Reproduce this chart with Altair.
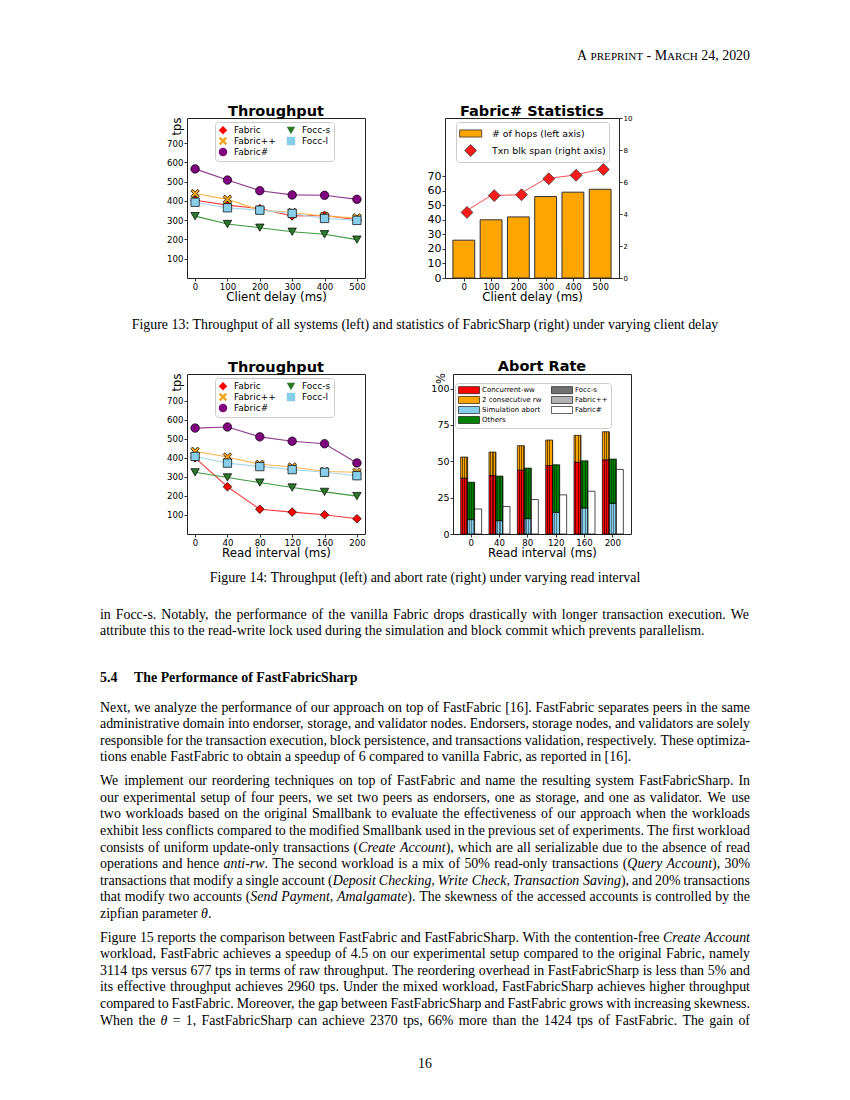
import altair as alt
import pandas as pd

# ------------------------------------------------------------------
# Values
# ------------------------------------------------------------------
delay_ms = [0, 100, 200, 300, 400, 500]
delay_fabric = [403, 378, 360, 322, 325, 302]
delay_fabric_pp = [438, 408, 352, 340, 320, 312]
delay_fabric_sharp = [566, 508, 453, 431, 429, 408]
delay_focc_s = [321, 280, 261, 240, 227, 199]
delay_focc_l = [393, 364, 352, 335, 309, 299]

hops = [26, 40, 42, 56, 59, 61]
txn_blk_span = [4.1, 5.15, 5.2, 6.2, 6.42, 6.78]

read_ms = [0, 40, 80, 120, 160, 200]
read_fabric = [400, 248, 130, 115, 101, 80]
read_fabric_pp = [434, 404, 366, 352, 328, 324]
read_fabric_sharp = [556, 562, 510, 487, 474, 373]
read_focc_s = [324, 297, 270, 244, 221, 199]
read_focc_l = [407, 372, 354, 338, 324, 306]

abort_focc_ww = [38.4, 40.2, 43.9, 47.1, 49.4, 51.0]
abort_focc_total = [52.9, 56.3, 60.7, 64.6, 67.8, 70.3]
abort_fpp_sim = [9.9, 9.2, 10.6, 14.9, 17.9, 21.1]
abort_fpp_total = [35.6, 39.8, 45.3, 47.6, 50.3, 51.5]
abort_sharp = [17.2, 18.9, 23.7, 26.9, 29.4, 44.4]

tps_ticks = [100, 200, 300, 400, 500, 600, 700]
hops_ticks = [0, 10, 20, 30, 40, 50, 60, 70]
span_ticks = [0, 2, 4, 6, 8, 10]
pct_ticks = [0, 25, 50, 75, 100]

systems = ["Fabric", "Fabric++", "Fabric#", "Focc-s", "Focc-l"]
draw_order = ["Focc-l", "Focc-s", "Fabric#", "Fabric++", "Fabric"]

# ------------------------------------------------------------------
# Page text
# ------------------------------------------------------------------
header_tokens = [("A", False, False), ("PREPRINT", True, True), ("-", False, True),
                 ("M", False, True), ("ARCH", True, False), ("24,", False, True), ("2020", False, True)]
caption13 = "Figure 13: Throughput of all systems (left) and statistics of FabricSharp (right) under varying client delay"
caption14 = "Figure 14: Throughput (left) and abort rate (right) under varying read interval"
heading_num = "5.4"
heading_text = "The Performance of FastFabricSharp"
page_number = "16"

par1 = [
    "in Focc-s. Notably, the performance of the vanilla Fabric drops drastically with longer transaction execution. We",
    "attribute this to the read-write lock used during the simulation and block commit which prevents parallelism.",
]
par2 = [
    "Next, we analyze the performance of our approach on top of FastFabric [16]. FastFabric separates peers in the same",
    "administrative domain into endorser, storage, and validator nodes. Endorsers, storage nodes, and validators are solely",
    "responsible for the transaction execution, block persistence, and transactions validation, respectively. These optimiza-",
    "tions enable FastFabric to obtain a speedup of 6 compared to vanilla Fabric, as reported in [16].",
]
par3 = [
    "We implement our reordering techniques on top of FastFabric and name the resulting system FastFabricSharp. In",
    "our experimental setup of four peers, we set two peers as endorsers, one as storage, and one as validator. We use",
    "two workloads based on the original Smallbank to evaluate the effectiveness of our approach when the workloads",
    "exhibit less conflicts compared to the modified Smallbank used in the previous set of experiments. The first workload",
    "consists of uniform update-only transactions (*Create Account*), which are all serializable due to the absence of read",
    "operations and hence *anti-rw*. The second workload is a mix of 50% read-only transactions (*Query Account*), 30%",
    "transactions that modify a single account (*Deposit Checking, Write Check, Transaction Saving*), and 20% transactions",
    "that modify two accounts (*Send Payment, Amalgamate*). The skewness of the accessed accounts is controlled by the",
    "zipfian parameter *\u03b8*.",
]
par4 = [
    "Figure 15 reports the comparison between FastFabric and FastFabricSharp. With the contention-free *Create Account*",
    "workload, FastFabric achieves a speedup of 4.5 on our experimental setup compared to the original Fabric, namely",
    "3114 tps versus 677 tps in terms of raw throughput. The reordering overhead in FastFabricSharp is less than 5% and",
    "its effective throughput achieves 2960 tps. Under the mixed workload, FastFabricSharp achieves higher throughput",
    "compared to FastFabric. Moreover, the gap between FastFabricSharp and FastFabric grows with increasing skewness.",
    "When the *\u03b8* = 1, FastFabricSharp can achieve 2370 tps, 66% more than the 1424 tps of FastFabric. The gain of",
]

# ------------------------------------------------------------------
# Styles
# ------------------------------------------------------------------
LINE_COLOR = {"Fabric": "#f23c3c", "Fabric++": "#ffb347", "Fabric#": "#8e3a8e",
              "Focc-s": "#3c9a3c", "Focc-l": "#a8d8ee"}
MARK_COLOR = {"Fabric": "#ff0000", "Fabric++": "#f2a51e", "Fabric#": "#800080",
              "Focc-s": "#2a7a2a", "Focc-l": "#87ceeb"}
X_PATH = "M-1,-0.6L-0.6,-1L0,-0.4L0.6,-1L1,-0.6L0.4,0L1,0.6L0.6,1L0,0.4L-0.6,1L-1,0.6L-0.4,0Z"
MARK_SHAPE = {"Fabric": "diamond", "Fabric++": X_PATH, "Fabric#": "circle",
              "Focc-s": "triangle-down", "Focc-l": "square"}
MARK_SIZE = {"Fabric": 110, "Fabric++": 80, "Fabric#": 85, "Focc-s": 75, "Focc-l": 70}

SANS = "DejaVu Sans"
SERIF = "Liberation Serif"
FS = 13.9
LEAD = 16.6
LEFT = 92.0
TEXT_W = 650.0
COL0 = 179
EDGE = "#222222"

TIMES_R = {" ": 250, "!": 333, "#": 500, "%": 833, "'": 333, "(": 333, ")": 333, "+": 564, ",": 250,
           "-": 333, ".": 250, "/": 278, ":": 278, ";": 278, "=": 564, "?": 444, "[": 333, "]": 333,
           "A": 722, "B": 667, "C": 667, "D": 722, "E": 611, "F": 556, "G": 722, "H": 722, "I": 333,
           "J": 389, "K": 722, "L": 611, "M": 889, "N": 722, "O": 722, "P": 556, "Q": 722, "R": 667,
           "S": 556, "T": 611, "U": 722, "V": 722, "W": 944, "X": 722, "Y": 722, "Z": 611,
           "a": 444, "b": 500, "c": 444, "d": 500, "e": 444, "f": 333, "g": 500, "h": 500, "i": 278,
           "j": 278, "k": 500, "l": 278, "m": 778, "n": 500, "o": 500, "p": 500, "q": 500, "r": 333,
           "s": 389, "t": 278, "u": 500, "v": 500, "w": 722, "x": 500, "y": 500, "z": 444}
TIMES_I = {" ": 250, "(": 333, ")": 333, ",": 250, "-": 333, ".": 250,
           "A": 611, "B": 611, "C": 667, "D": 722, "E": 611, "F": 611, "G": 722, "H": 722, "I": 333,
           "J": 444, "K": 667, "L": 556, "M": 833, "N": 667, "O": 722, "P": 611, "Q": 722, "R": 611,
           "S": 500, "T": 556, "U": 722, "V": 611, "W": 833, "X": 611, "Y": 556, "Z": 556,
           "a": 500, "b": 500, "c": 444, "d": 500, "e": 444, "f": 278, "g": 500, "h": 500, "i": 278,
           "j": 278, "k": 444, "l": 278, "m": 722, "n": 500, "o": 500, "p": 500, "q": 500, "r": 389,
           "s": 389, "t": 278, "u": 500, "v": 444, "w": 667, "x": 444, "y": 444, "z": 389}
TIMES_B = {" ": 250, ".": 250, "F": 611, "P": 611, "S": 556, "T": 667, "a": 500, "b": 556, "c": 444,
           "e": 444, "f": 333, "h": 556, "i": 278, "m": 833, "n": 556, "o": 500, "p": 556, "r": 444,
           "s": 389, "t": 333}


def text_width(s, size, style="r"):
    table = {"r": TIMES_R, "i": TIMES_I, "b": TIMES_B}[style]
    return sum(table.get(ch, TIMES_R.get(ch, 500)) for ch in s) * size / 1000.0


def layout_paragraph(lines, y0, last_justified, top, items):
    italic = False
    for k, line in enumerate(lines):
        y = y0 + k * LEAD - top
        justify = (k < len(lines) - 1) or last_justified
        tokens = [t for t in line.split(" ") if t]
        segs_all = []
        for tok in tokens:
            segs = []
            for j, part in enumerate(tok.split("*")):
                if j > 0:
                    italic = not italic
                if part:
                    segs.append((part, "i" if italic else "r"))
            segs_all.append(segs)
        widths = [sum(text_width(p, FS, st) for p, st in segs) for segs in segs_all]
        if justify and len(tokens) > 1:
            gap = (TEXT_W - sum(widths)) / (len(tokens) - 1)
        else:
            gap = 0.25 * FS
        x = LEFT
        for segs, w in zip(segs_all, widths):
            xx = x
            for p, st in segs:
                items.append({"t": p, "x": xx, "y": y, "s": st, "fs": FS, "a": "left"})
                xx += text_width(p, FS, st)
            x += w + gap


def text_panel(items, height):
    df = pd.DataFrame(items)
    layers = []
    for style, fstyle, fweight in [("r", "normal", "normal"), ("i", "italic", "normal"), ("b", "normal", "bold")]:
        for align in ["left", "center", "right"]:
            sub = df[(df["s"] == style) & (df["a"] == align)]
            if len(sub) == 0:
                continue
            layers.append(
                alt.Chart(sub).mark_text(align=align, baseline="alphabetic", font=SERIF,
                                         fontStyle=fstyle, fontWeight=fweight, color="black")
                .encode(x=alt.X("x:Q", scale=None, axis=None),
                        y=alt.Y("y:Q", scale=None, axis=None),
                        text="t:N",
                        size=alt.Size("fs:Q", scale=None, legend=None))
            )
    return alt.layer(*layers).properties(width=COL0, height=height)


def spacer(w, h):
    return alt.Chart(pd.DataFrame({"t": [""]})).mark_text(fontSize=1).encode(
        text="t:N", x=alt.value(10), y=alt.value(10)).properties(width=w, height=h)


FRAME = alt.ViewBackground(stroke=EDGE, strokeWidth=1)


def bottom_axis(values, title, fmt=True, **extra):
    kw = dict(values=values, title=title, labelFontSize=8.6, titleFontSize=11.8, titleY=22,
              titleBaseline="alphabetic", labelAngle=0)
    if fmt:
        kw["format"] = "d"
    kw.update(extra)
    return alt.Axis(**kw)


def left_title_axis(values, title, fs):
    return alt.Axis(values=values, title=title, labelFontSize=fs, titleFontSize=11.5, titleAngle=270,
                    titleX=-10, titleY=8, titleAlign="center", titleBaseline="middle", format="d")


# ------------------------------------------------------------------
# Throughput charts
# ------------------------------------------------------------------
def throughput_chart(xs, series, xdom, ydom, xtitle):
    recs = []
    for s in systems:
        for xv, yv in zip(xs, series[s]):
            recs.append({"x": xv, "tps": yv, "sys": s})
    df = pd.DataFrame(recs)
    x = alt.X("x:Q", scale=alt.Scale(domain=xdom, nice=False, zero=False), axis=bottom_axis(xs, xtitle))
    y = alt.Y("tps:Q", scale=alt.Scale(domain=ydom, nice=False, zero=False),
              axis=left_title_axis(tps_ticks, "tps", 8.6))
    leg = alt.Legend(title=None, orient="none", legendX=28, legendY=4, columns=2, labelFontSize=9,
                     labelFont=SANS, symbolSize=72, symbolStrokeColor="black", symbolStrokeWidth=0.7,
                     strokeColor="#cccccc", fillColor="white", padding=3, cornerRadius=3,
                     rowPadding=-2, columnPadding=9, labelOffset=6)
    lines = alt.Chart(df).mark_line(strokeWidth=1.1).encode(
        x=x, y=y,
        color=alt.Color("sys:N", scale=alt.Scale(domain=draw_order, range=[LINE_COLOR[s] for s in draw_order]),
                        legend=None))
    pts = alt.Chart(df).mark_point(filled=True, opacity=1, stroke="black", strokeWidth=0.7).encode(
        x=x, y=y,
        fill=alt.Fill("sys:N", scale=alt.Scale(domain=systems, range=[MARK_COLOR[s] for s in systems]),
                      legend=leg),
        shape=alt.Shape("sys:N", scale=alt.Scale(domain=systems, range=[MARK_SHAPE[s] for s in systems]),
                        legend=leg),
        size=alt.Size("sys:N", scale=alt.Scale(domain=draw_order, range=[MARK_SIZE[s] for s in draw_order]),
                      legend=None))
    return alt.layer(lines, pts).properties(width=178, height=160,
                                            title=alt.TitleParams("Throughput", offset=-2), view=FRAME)


chartA = throughput_chart(delay_ms, {"Fabric": delay_fabric, "Fabric++": delay_fabric_pp,
                                     "Fabric#": delay_fabric_sharp, "Focc-s": delay_focc_s,
                                     "Focc-l": delay_focc_l},
                          [-25, 525], [0, 830], "Client delay (ms)")
chartC = throughput_chart(read_ms, {"Fabric": read_fabric, "Fabric++": read_fabric_pp,
                                    "Fabric#": read_fabric_sharp, "Focc-s": read_focc_s,
                                    "Focc-l": read_focc_l},
                          [-10, 210], [0, 840], "Read interval (ms)")

# ------------------------------------------------------------------
# Fabric# statistics (dual axis); its cell starts 8px right of the frame,
# so the x range reaches back to -8 and the frame is drawn by axis domains.
# ------------------------------------------------------------------
LB = ["# of hops (left axis)", "Txn blk span (right axis)"]
fillB = alt.Scale(domain=LB, range=["#ffa500", "#ff1a1a"])
shapeB = alt.Scale(domain=LB, range=["M-1,-0.45H1.8V0.45H-1Z", "M0.4,-0.75L1.15,0L0.4,0.75L-0.35,0Z"])
legB = alt.Legend(title=None, orient="none", legendX=3, legendY=4, labelFontSize=9.4, labelFont=SANS,
                  symbolSize=250, symbolStrokeColor="#333333", symbolStrokeWidth=0.8, rowPadding=3,
                  padding=3, strokeColor="#cccccc", fillColor="white", cornerRadius=3, labelOffset=16)
dfB = pd.DataFrame({"delay": delay_ms, "hops": hops, "span": txn_blk_span})
xscaleB = alt.Scale(domain=[-69, 569], nice=False, zero=False, range=[-8, 166])
DOM = dict(domain=True, domainColor=EDGE, domainWidth=1)
axB_bottom = bottom_axis(delay_ms, "Client delay (ms)", **DOM)
axB_top = alt.Axis(orient="top", labels=False, ticks=False, title=None, **DOM)
bars = alt.Chart(dfB).transform_calculate(
    x0="datum.delay - 40", x1="datum.delay + 40", lab="'" + LB[0] + "'"
).mark_bar(stroke="#333333", strokeWidth=1).encode(
    x=alt.X("x0:Q", scale=xscaleB, axis=axB_bottom),
    x2="x1:Q",
    y=alt.Y("hops:Q", scale=alt.Scale(domain=[0, 110], nice=False),
            axis=alt.Axis(values=hops_ticks, title=None, labelFontSize=11, format="d", offset=8, **DOM)),
    y2=alt.datum(0),
    fill=alt.Fill("lab:N", scale=fillB, legend=legB))
yspan = alt.Y("span:Q", scale=alt.Scale(domain=[0, 10], nice=False),
              axis=alt.Axis(orient="right", values=span_ticks, title=None, labelFontSize=7, format="d", **DOM))
span_line = alt.Chart(dfB).mark_line(color="#ff4d4d", strokeWidth=1).encode(
    x=alt.X("delay:Q", scale=xscaleB, axis=axB_top), y=yspan)
span_pts = alt.Chart(dfB).transform_calculate(lab="'" + LB[1] + "'").mark_point(
    filled=True, opacity=1, stroke="#333333", strokeWidth=0.8, size=250).encode(
    x=alt.X("delay:Q", scale=xscaleB, axis=axB_top), y=yspan,
    fill=alt.Fill("lab:N", scale=fillB, legend=legB),
    shape=alt.Shape("lab:N", scale=shapeB, legend=legB))
chartB = alt.layer(bars, alt.layer(span_line, span_pts)).resolve_scale(y="independent").resolve_axis(
    x="independent").properties(width=166, height=160,
                                title=alt.TitleParams("Fabric# Statistics", offset=-5, dx=-4))

# ------------------------------------------------------------------
# Abort rate (grouped + stacked bars)
# ------------------------------------------------------------------
causes_legend = ["Concurrent-ww", "2 consecutive rw", "Simulation abort", "Others", "Focc-s", "Fabric++", "Fabric#"]
causes_colors = ["#ff0000", "#ffa500", "#87ceeb", "#008000", "#707070", "#b4b4b4", "#ffffff"]
recsD = []
for i, iv in enumerate(read_ms):
    recsD.append({"iv": iv, "sys": "Focc-s", "cause": "Concurrent-ww", "lo": 0, "hi": abort_focc_ww[i]})
    recsD.append({"iv": iv, "sys": "Focc-s", "cause": "2 consecutive rw", "lo": abort_focc_ww[i], "hi": abort_focc_total[i]})
    recsD.append({"iv": iv, "sys": "Fabric++", "cause": "Simulation abort", "lo": 0, "hi": abort_fpp_sim[i]})
    recsD.append({"iv": iv, "sys": "Fabric++", "cause": "Others", "lo": abort_fpp_sim[i], "hi": abort_fpp_total[i]})
    recsD.append({"iv": iv, "sys": "Fabric#", "cause": "Fabric#", "lo": 0, "hi": abort_sharp[i]})
dfD = pd.DataFrame(recsD)

xD = alt.X("iv:O", sort=read_ms, scale=alt.Scale(paddingInner=0.26, paddingOuter=0.27),
           axis=bottom_axis(read_ms, "Read interval (ms)", fmt=False))
xoD = alt.XOffset("sys:N", scale=alt.Scale(domain=["Focc-s", "Fabric++", "Fabric#"], paddingInner=0, paddingOuter=0))
yD = alt.Y("hi:Q", scale=alt.Scale(domain=[0, 110], nice=False),
           axis=alt.Axis(values=pct_ticks, title="%", labelFontSize=9.5, titleFontSize=11.5, titleAngle=270,
                         titleX=-12, titleY=4, titleAlign="center", titleBaseline="middle", format="d"))
legD = alt.Legend(title=None, orient="none", legendX=2, legendY=9, columns=2, labelFontSize=7, labelFont=SANS,
                  symbolType="M-1,-1H5V1H-1Z", symbolSize=49, symbolStrokeColor="black",
                  symbolStrokeWidth=0.6, rowPadding=0, columnPadding=8, padding=3,
                  strokeColor="#cccccc", fillColor="white", cornerRadius=3, labelOffset=16)
barsD = alt.Chart(dfD).mark_bar(stroke="black", strokeWidth=0.7).encode(
    x=xD, xOffset=xoD, y=yD, y2="lo:Q",
    fill=alt.Fill("cause:N", scale=alt.Scale(domain=causes_legend, range=causes_colors), legend=legD))


def stripes(n, alpha):
    clear = "rgba(0,0,0,0)"
    dark = "rgba(0,0,0,%s)" % alpha
    stops = []
    for k in range(n):
        a, b, c = k / n, (k + 0.5) / n, (k + 1) / n
        stops += [alt.GradientStop(offset=a, color=clear), alt.GradientStop(offset=b, color=clear),
                  alt.GradientStop(offset=b, color=dark), alt.GradientStop(offset=c, color=dark)]
    return alt.LinearGradient(gradient="linear", stops=stops, x1=0, x2=1, y1=0, y2=0)


hatchD1 = alt.Chart(dfD).transform_filter("datum.sys == 'Focc-s'").mark_bar(
    fill=stripes(3, 0.55), strokeWidth=0).encode(x=xD, xOffset=xoD, y=yD, y2="lo:Q")
hatchD2 = alt.Chart(dfD).transform_filter("datum.sys == 'Fabric++'").mark_bar(
    fill=stripes(3, 0.4), strokeWidth=0).encode(x=xD, xOffset=xoD, y=yD, y2="lo:Q")
chartD = alt.layer(barsD, hatchD1, hatchD2).properties(
    width=178, height=160, title=alt.TitleParams("Abort Rate", offset=-2), view=FRAME)

# ------------------------------------------------------------------
# Text panels (page coordinates minus the 8px body margin)
# ------------------------------------------------------------------
hdr_items = []
BIG, SMALL = FS, FS * 0.8
total = 0.0
for txt, sc, sp in header_tokens:
    total += (0.25 * BIG if sp else 0) + text_width(txt, SMALL if sc else BIG)
x = 742 - total
for txt, sc, sp in header_tokens:
    x += 0.25 * BIG if sp else 0
    size = SMALL if sc else BIG
    hdr_items.append({"t": txt, "x": x, "y": 52, "s": "r", "fs": size, "a": "left"})
    x += text_width(txt, size)
header = text_panel(hdr_items, 110)

cap13_panel = text_panel([{"t": caption13, "x": 417, "y": 51, "s": "r", "fs": FS, "a": "center"}], 96)

BODY_TOP = 534
body_items = [{"t": caption14, "x": 417, "y": 582 - BODY_TOP, "s": "r", "fs": FS, "a": "center"}]
layout_paragraph(par1, 618.5, False, BODY_TOP, body_items)
body_items.append({"t": heading_num, "x": LEFT, "y": 681.5 - BODY_TOP, "s": "b", "fs": FS, "a": "left"})
body_items.append({"t": heading_text, "x": 126, "y": 681.5 - BODY_TOP, "s": "b", "fs": FS, "a": "left"})
layout_paragraph(par2, 711.5, False, BODY_TOP, body_items)
layout_paragraph(par3, 785.2, False, BODY_TOP, body_items)
layout_paragraph(par4, 941.5, True, BODY_TOP, body_items)
body_items.append({"t": page_number, "x": 417, "y": 1067.5 - BODY_TOP, "s": "r", "fs": FS, "a": "center"})
body = text_panel(body_items, 545)

# ------------------------------------------------------------------
# Page assembly: a 4-column grid
# ------------------------------------------------------------------
cells = [
    header, spacer(1, 1), spacer(1, 1), spacer(1, 1),
    spacer(COL0, 160), chartA, spacer(88, 160), chartB,
    cap13_panel, spacer(1, 1), spacer(1, 1), spacer(1, 1),
    spacer(COL0, 160), chartC, spacer(88, 160), chartD,
    body, spacer(1, 1), spacer(1, 1), spacer(1, 1),
]

page = alt.concat(
    *cells, columns=4, spacing=0, bounds="flush",
    align=alt.RowColLayoutAlign(row="each", column="none")
).resolve_scale(
    color="independent", fill="independent", shape="independent", size="independent"
).resolve_legend(
    color="independent", fill="independent", shape="independent", size="independent"
).properties(
    padding=0, background="white"
).configure_view(stroke=None).configure_axis(
    grid=False, domain=False, tickColor="black", tickSize=3, tickWidth=0.8, labelColor="black",
    labelFont=SANS, titleFont=SANS, titleFontWeight="normal", titleColor="black", labelPadding=1
).configure_title(
    font=SANS, fontWeight="bold", fontSize=14.5, color="black", anchor="middle", frame="group",
    baseline="alphabetic", offset=0
).configure_legend(labelColor="black")

page.save("out.html", embed_options={"renderer": "svg", "actions": False})
